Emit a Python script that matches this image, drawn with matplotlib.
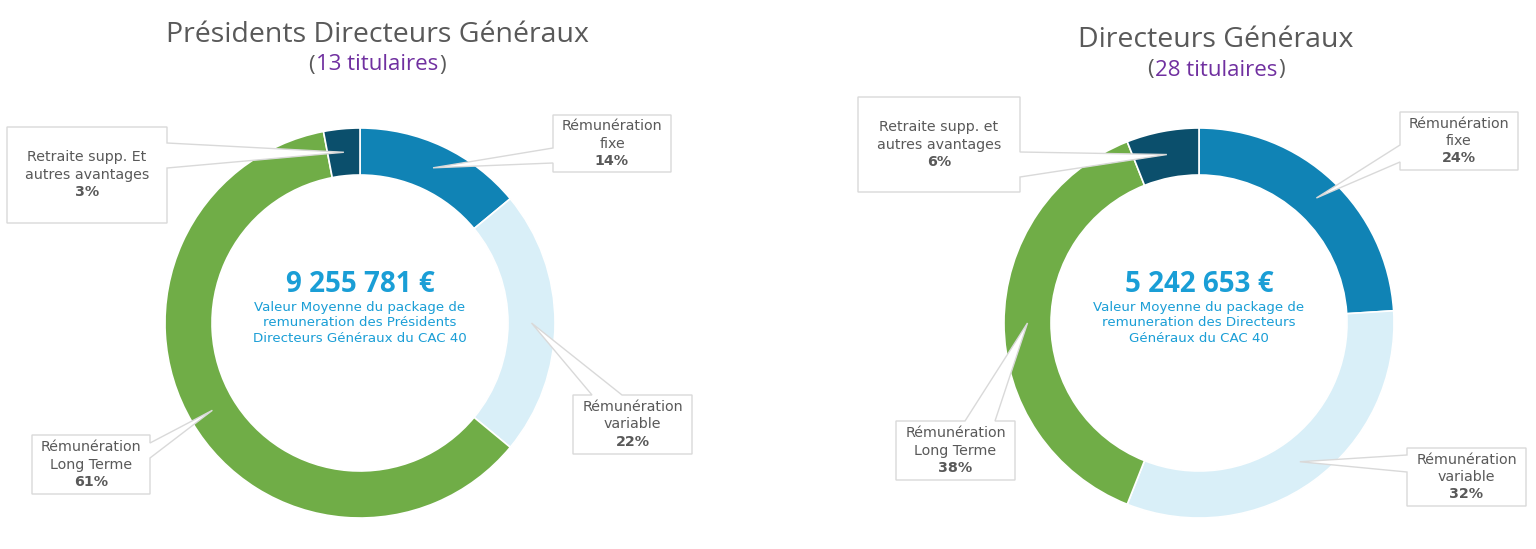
import numpy as np
import matplotlib
matplotlib.use('Agg')
import matplotlib.pyplot as plt
from matplotlib.patches import Polygon

plt.rcParams['font.family'] = ['Open Sans', 'DejaVu Sans']

# data
categories   = ['Rémunération\nfixe', 'Rémunération\nvariable',
                'Rémunération\nLong Terme', 'Retraite supp. Et\nautres avantages']
categories_2 = ['Rémunération\nfixe', 'Rémunération\nvariable',
                'Rémunération\nLong Terme', 'Retraite supp. et\nautres avantages']
pdg_values   = [14, 22, 61, 3]
dg_values    = [24, 32, 38, 6]
titles       = ['Présidents Directeurs Généraux', 'Directeurs Généraux']
holders      = ['13 titulaires', '28 titulaires']
amounts      = ['9 255 781 €', '5 242 653 €']
subtexts     = ['Valeur Moyenne du package de\nremuneration des Présidents\nDirecteurs Généraux du CAC 40',
                'Valeur Moyenne du package de\nremuneration des Directeurs\nGénéraux du CAC 40']

colors = ['#1083B5', '#D9EFF8', '#70AD47', '#0B4F6C']
GREY   = '#595959'
BLUE   = '#1A9ED6'
PURPLE = '#7030A0'
WIDE   = ['DejaVu Sans']

W, H = 1536, 549
R_OUT, RING = 195, 47

# layout (pixel coords, y downward): box x0,y0,x1,y1 / side of wedge / wedge base
layout_left = [((553, 115, 671, 172), 'left', (148, 163)),
               ((573, 395, 692, 454), 'top', (592, 622)),
               ((32, 435, 150, 494), 'right', (443, 458)),
               ((7, 127, 167, 223), 'right', (143, 168))]
layout_right = [((1400, 112, 1518, 170), 'left', (145, 162)),
                ((1407, 448, 1526, 506), 'left', (455, 472)),
                ((896, 421, 1015, 480), 'top', (965, 995)),
                ((858, 97, 1020, 192), 'right', (152, 177))]


def fy(y):
    ''' pixel y (from top) -> axes y '''
    return H - y


def callout(ax, box, side, base, tip, lines, pct):
    ''' box with a wedge pointing to tip '''
    x0, y0, x1, y1 = box
    a, b = base
    tx, ty = tip
    if side == 'left':
        pts = [(x0, y0), (x1, y0), (x1, y1), (x0, y1), (x0, b), (tx, ty), (x0, a)]
    elif side == 'right':
        pts = [(x0, y0), (x1, y0), (x1, a), (tx, ty), (x1, b), (x1, y1), (x0, y1)]
    else:
        pts = [(x0, y0), (a, y0), (tx, ty), (b, y0), (x1, y0), (x1, y1), (x0, y1)]
    pts = [(p[0], fy(p[1])) for p in pts]
    ax.add_patch(Polygon(pts, closed=True, facecolor='white',
                         edgecolor='#D9D9D9', linewidth=1.0, zorder=5))
    cx = (x0 + x1) / 2
    cy = (y0 + y1) / 2
    step = 17.5
    for k, txt in enumerate(lines + [pct]):
        yy = cy + (k - 1) * step
        ax.text(cx, fy(yy), txt, ha='center', va='center', fontsize=10.3,
                family=WIDE, color=GREY,
                fontweight='bold' if k == 2 else 'normal', zorder=6)


def draw_donut(ax, center, values, labels, layout, title, holder, amount, subtext, title_y):
    cx, cy = center
    ax.pie(values, colors=colors, startangle=90, counterclock=False,
           radius=R_OUT, center=(cx, fy(cy)),
           wedgeprops=dict(width=RING, edgecolor='white', linewidth=1.2))

    total = float(sum(values))
    start = 90.0
    r_mid = R_OUT - RING / 2.0
    for v, lab, (box, side, base) in zip(values, labels, layout):
        mid = np.deg2rad(start - v / total * 360 / 2)
        start -= v / total * 360
        tip = (cx + r_mid * np.cos(mid), cy - r_mid * np.sin(mid))
        callout(ax, box, side, base, tip, lab.split('\n'), '{}%'.format(v))

    ax.text(cx + 17, fy(title_y + 2), title, ha='center', va='center',
            fontsize=20.5, color=GREY)
    t = ax.text(cx + 17, fy(title_y + 32), holder, ha='center', va='center',
                fontsize=16, color=PURPLE)
    # parentheses in grey around the purple text
    ax.set_xlim(0, W)
    ax.set_ylim(0, H)
    ax.figure.canvas.draw()
    bb = t.get_window_extent().transformed(ax.transData.inverted())
    ax.text(bb.x0 - 1, fy(title_y + 32), '(', ha='right', va='center', fontsize=16, color=GREY)
    ax.text(bb.x1 + 1, fy(title_y + 32), ')', ha='left', va='center', fontsize=16, color=GREY)

    ax.text(cx, fy(285), amount, ha='center', va='center', fontsize=20,
            fontweight='bold', color=BLUE)
    ax.text(cx, fy(323), subtext, ha='center', va='center', fontsize=9.6,
            family=WIDE, color=BLUE, linespacing=1.25)


fig = plt.figure(figsize=(W / 100, H / 100), dpi=100)
ax = fig.add_axes([0, 0, 1, 1])
ax.set_xlim(0, W)
ax.set_ylim(0, H)
ax.set_aspect('equal')
ax.axis('off')

draw_donut(ax, (360, 323), pdg_values, categories, layout_left,
           titles[0], holders[0], amounts[0], subtexts[0], 33)
draw_donut(ax, (1199, 323), dg_values, categories_2, layout_right,
           titles[1], holders[1], amounts[1], subtexts[1], 38)

ax.set_xlim(0, W)
ax.set_ylim(0, H)
fig.savefig('out.png', dpi=100)
